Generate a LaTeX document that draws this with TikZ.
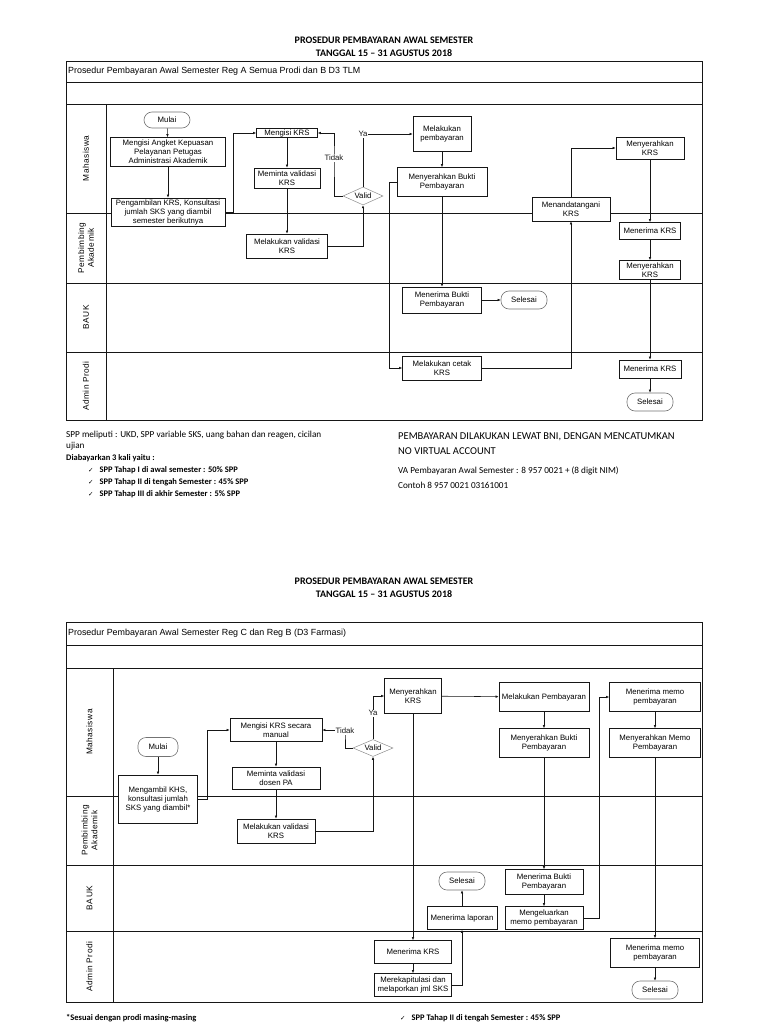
\documentclass[tikz,border=0pt]{standalone}
\usepackage{fontspec}
\setmainfont{Carlito}
\newfontfamily\arialf{Liberation Sans}
\newfontfamily\arialsp[LetterSpace=6]{Liberation Sans}
\newfontfamily\dejavu{DejaVu Sans}
\usepackage{tikz}
\usetikzlibrary{arrows.meta,shapes.geometric}
\definecolor{ink}{HTML}{161616}
\definecolor{muted}{HTML}{8C8C8C}

\tikzset{
  box/.style={draw=ink,fill=white,line width=0.7pt,align=center,inner sep=0.6pt,font=\arialf\fontsize{7.8}{9}\selectfont},
  term/.style={draw=black!55,fill=white,line width=0.6pt,rounded corners=8pt,minimum width=46,minimum height=18,font=\arialf\fontsize{7.8}{9}\selectfont},
  decision/.style={diamond,draw=muted,fill=white,line width=0.5pt,aspect=2.2,inner sep=0.3pt,minimum width=40,minimum height=18,font=\arialf\fontsize{7.8}{9}\selectfont},
  flow/.style={ink,line width=0.55pt,-{Latex[length=3pt,width=2.6pt]}},
  lane/.style={ink,line width=0.75pt},
  lanename/.style={rotate=90,align=center,font=\arialsp\fontsize{8.3}{9.8}\selectfont},
  tag/.style={fill=white,inner sep=0.8pt,font=\arialf\fontsize{7.8}{9}\selectfont},
  head/.style={font=\bfseries\fontsize{10}{11}\selectfont},
  rowtitle/.style={anchor=west,inner sep=0pt,font=\arialf\fontsize{8.9}{11}\selectfont},
  note/.style={anchor=west,inner sep=0pt,font=\fontsize{9.2}{11}\selectfont},
  tick/.style={note,font=\bfseries\fontsize{8.5}{10}\selectfont},
}

\begin{document}
\begin{tikzpicture}[x=1pt,y=-1pt]
  \useasboundingbox (0,0) rectangle (768,1024);

  \node[head] (ttlA) at (384,40) {PROSEDUR PEMBAYARAN AWAL SEMESTER};
  \node[head] (tglA) at (384,53) {TANGGAL 15 -- 31 AGUSTUS 2018};

  % lanes, Reg A
  \draw[lane] (66,61) rectangle (702,420);
  \foreach \y in {82,104,213,283,352} \draw[lane] (66,\y) -- (702,\y);
  \draw[lane] (106,104) -- (106,420);
  \node[rowtitle] (hdrA) at (68,71.5) {Prosedur Pembayaran Awal Semester Reg A Semua Prodi dan B D3 TLM};
  \node[lanename] (mhsA) at (86,158.5) {Mahasiswa};
  \node[lanename] (pemA) at (86,248) {Pembimbing\\Akademik};
  \node[lanename] (baukA) at (86,317.5) {BAUK};
  \node[lanename] (admA) at (86,386) {Admin Prodi};

  \node[term,minimum height=16] (mulaiA) at (167,120) {Mulai};
  \node[box,minimum width=115,minimum height=29] (angket) at (168,152) {Mengisi Angket Kepuasan\\Pelayanan Petugas\\Administrasi Akademik};
  \node[box,minimum width=114,minimum height=28] (ambil) at (168,212) {Pengambilan KRS, Konsultasi\\jumlah SKS yang diambil\\semester berikutnya};
  \node[box,minimum width=61,minimum height=9] (isiKRS) at (287,133) {Mengisi KRS};
  \node[box,minimum width=66,minimum height=20] (mintaA) at (287,178) {Meminta validasi\\KRS};
  \node[box,minimum width=81,minimum height=24] (validasiA) at (287,246) {Melakukan validasi\\KRS};
  \node[decision] (validA) at (363,196) {Valid};
  \node[box,minimum width=58,minimum height=35] (bayarA) at (442,134) {Melakukan\\pembayaran};
  \node[box,minimum width=90,minimum height=29] (buktiA) at (442,182) {Menyerahkan Bukti\\Pembayaran};
  \node[box,minimum width=79,minimum height=26] (terimaBukti) at (442,300) {Menerima Bukti\\Pembayaran};
  \node[term] (selesaiA1) at (524,300) {Selesai};
  \node[box,minimum width=79,minimum height=24] (cetak) at (442,368) {Melakukan cetak\\KRS};
  \node[box,minimum width=78,minimum height=24] (tandatangan) at (571,209) {Menandatangani\\KRS};
  \node[box,minimum width=68,minimum height=22] (serahA1) at (650,148) {Menyerahkan\\KRS};
  \node[box,minimum width=61,minimum height=17] (terimaA1) at (650,231) {Menerima KRS};
  \node[box,minimum width=61,minimum height=19] (serahA2) at (650,270) {Menyerahkan\\KRS};
  \node[box,minimum width=62,minimum height=18] (terimaA2) at (650,369) {Menerima KRS};
  \node[term] (selesaiA2) at (650,402) {Selesai};

  \draw[flow] (mulaiA) -- (angket);
  \draw[flow] (angket) -- (ambil);
  \draw[flow] (ambil.east) -- ++(8,0) |- (isiKRS.west);
  \draw[flow] (isiKRS) -- (mintaA);
  \draw[flow] (mintaA) -- (validasiA);
  \draw[flow] (validasiA.east) -| (validA.south);
  \draw[flow] (validA.west) -| (334,158) node[tag] {Tidak} |- (isiKRS.east);
  \draw[flow] (validA.north) |- node[tag,pos=0.5] {Ya} (bayarA.west);
  \draw[flow] (bayarA) -- (buktiA);
  \draw[flow] (buktiA) -- (terimaBukti);
  \draw[flow] (terimaBukti) -- (selesaiA1);
  \draw[flow] (buktiA.west) -- ++(-7,0) |- (cetak.west);
  \draw[flow] (cetak.east) -| (tandatangan.south);
  \draw[flow] (tandatangan.north) |- (serahA1.west);
  \draw[flow] (serahA1) -- (terimaA1);
  \draw[flow] (terimaA1) -- (serahA2);
  \draw[flow] (serahA2) -- (terimaA2);
  \draw[flow] (terimaA2) -- (selesaiA2);

  \node[note] (sppA) at (66,435) {SPP meliputi : UKD, SPP variable SKS, uang bahan dan reagen, cicilan};
  \node[note] (ujianA) at (66,446.5) {ujian};
  \node[tick] (kaliA) at (66,458) {Diabayarkan 3 kali yaitu :};
  \node[tick] (tahap1) at (88,470) {{\dejavu\mdseries\fontsize{6.5}{8}\selectfont ✓}\hspace{6pt}SPP Tahap I di awal semester : 50\% SPP};
  \node[tick] (tahap2) at (88,482) {{\dejavu\mdseries\fontsize{6.5}{8}\selectfont ✓}\hspace{6pt}SPP Tahap II di tengah Semester : 45\% SPP};
  \node[tick] (tahap3) at (88,494) {{\dejavu\mdseries\fontsize{6.5}{8}\selectfont ✓}\hspace{6pt}SPP Tahap III di akhir Semester : 5\% SPP};
  \node[note,font=\fontsize{10.5}{13}\selectfont] (bniA) at (398,437) {PEMBAYARAN DILAKUKAN LEWAT BNI, DENGAN MENCATUMKAN};
  \node[note,font=\fontsize{10.5}{13}\selectfont] (vaccA) at (398,451) {NO VIRTUAL ACCOUNT};
  \node[note] (vaA) at (398,471) {VA Pembayaran Awal Semester : 8 957 0021 + (8 digit NIM)};
  \node[note] (contohA) at (398,485) {Contoh 8 957 0021 03161001};

  \node[head] (ttlB) at (384,581) {PROSEDUR PEMBAYARAN AWAL SEMESTER};
  \node[head] (tglB) at (384,594) {TANGGAL 15 -- 31 AGUSTUS 2018};

  % lanes, Reg C
  \draw[lane] (66,622) rectangle (702,1002);
  \foreach \y in {645,668,796,865,931} \draw[lane] (66,\y) -- (702,\y);
  \draw[lane] (113,668) -- (113,1002);
  \node[rowtitle] (hdrB) at (68,633.5) {Prosedur Pembayaran Awal Semester Reg C dan Reg B (D3 Farmasi)};
  \node[lanename] (mhsB) at (89.5,732) {Mahasiswa};
  \node[lanename] (pemB) at (89.5,830.5) {Pembimbing\\Akademik};
  \node[lanename] (baukB) at (89.5,898) {BAUK};
  \node[lanename] (admB) at (89.5,966.5) {Admin Prodi};

  \node[term,minimum width=40,minimum height=19] (mulaiB) at (158,747) {Mulai};
  \node[box,minimum width=79,minimum height=48] (ambilB) at (158,799) {Mengambil KHS,\\konsultasi jumlah\\SKS yang diambil*};
  \node[box,minimum width=92,minimum height=23] (isiB) at (276,730) {Mengisi KRS secara\\manual};
  \node[box,minimum width=88,minimum height=22] (mintaB) at (276,778) {Meminta validasi\\dosen PA};
  \node[box,minimum width=78,minimum height=24] (validasiB) at (276,831) {Melakukan validasi\\KRS};
  \node[decision,minimum height=17] (validB) at (373,748) {Valid};
  \node[box,minimum width=57,minimum height=35] (serahB) at (413,696) {Menyerahkan\\KRS};
  \node[box,minimum width=90,minimum height=29] (bayarB) at (544,697) {Melakukan Pembayaran};
  \node[box,minimum width=90,minimum height=29] (buktiB) at (544,743) {Menyerahkan Bukti\\Pembayaran};
  \node[box,minimum width=91,minimum height=29] (memoB1) at (655,697) {Menerima memo\\pembayaran};
  \node[box,minimum width=91,minimum height=29] (serahMemo) at (655,743) {Menyerahkan Memo\\Pembayaran};
  \node[term] (selesaiB1) at (462,881) {Selesai};
  \node[box,minimum width=78,minimum height=25] (terimaBuktiB) at (544,882) {Menerima Bukti\\Pembayaran};
  \node[box,minimum width=78,minimum height=23] (keluarMemo) at (544,918) {Mengeluarkan\\memo pembayaran};
  \node[box,minimum width=70,minimum height=23] (laporan) at (462,918) {Menerima laporan};
  \node[box,minimum width=77,minimum height=23] (terimaKRSB) at (413,952) {Menerima KRS};
  \node[box,minimum width=77,minimum height=23] (rekap) at (413,985) {Merekapitulasi dan\\melaporkan jml SKS};
  \node[box,minimum width=89,minimum height=29] (memoB2) at (655,953) {Menerima memo\\pembayaran};
  \node[term] (selesaiB2) at (655,990) {Selesai};

  \draw[flow] (mulaiB) -- (ambilB);
  \draw[flow] (ambilB.east) -- ++(9,0) |- (isiB.west);
  \draw[flow] (isiB) -- (mintaB);
  \draw[flow] (mintaB) -- (validasiB);
  \draw[flow] (validasiB.east) -| (validB.south);
  \draw[flow] (validB.west) -| (345,731) node[tag] {Tidak} |- (isiB.east);
  \draw[flow] (validB.north) |- node[tag,pos=0.3] {Ya} (serahB.west);
  \draw[flow] (serahB) -- (bayarB);
  \draw[flow] (bayarB) -- (buktiB);
  \draw[flow] (buktiB) -- (terimaBuktiB);
  \draw[flow] (terimaBuktiB) -- (keluarMemo);
  \draw[flow] (keluarMemo.east) -- ++(16,0) |- (memoB1.west);
  \draw[flow] (memoB1) -- (serahMemo);
  \draw[flow] (serahMemo) -- (memoB2);
  \draw[flow] (memoB2) -- (selesaiB2);
  \draw[flow] (serahB) -- (terimaKRSB);
  \draw[flow] (terimaKRSB) -- (rekap);
  \draw[flow] (rekap.east) -| (laporan.south);
  \draw[flow] (laporan) -- (selesaiB1);

  \node[tick] (sesuai) at (66,1018) {*Sesuai dengan prodi masing-masing};
  \node[tick] (tahap2B) at (400,1018) {{\dejavu\mdseries\fontsize{6.5}{8}\selectfont ✓}\hspace{6pt}SPP Tahap II di tengah Semester : 45\% SPP};
\end{tikzpicture}
\end{document}
